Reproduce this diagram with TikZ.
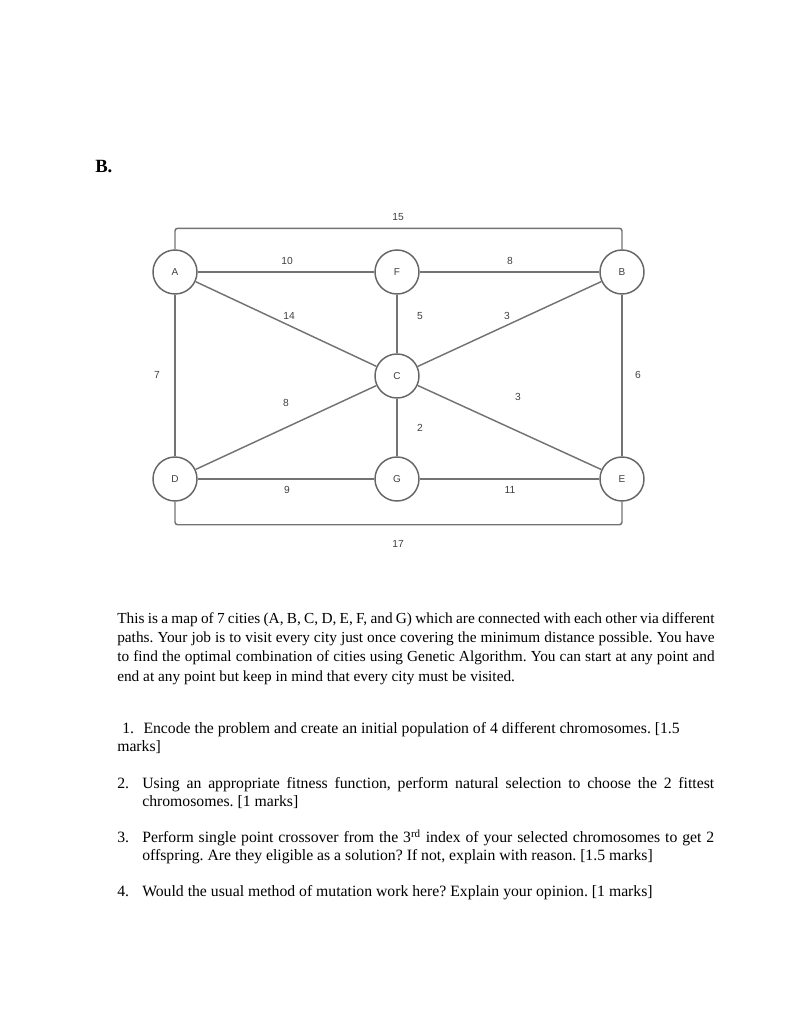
\documentclass[tikz,border=0pt]{standalone}
\usepackage{fontspec}
\setmainfont{Liberation Serif}
\setsansfont{Liberation Sans}
\frenchspacing
\begin{document}
\begin{tikzpicture}[
  x=0.75pt, y=-0.75pt,
  city/.style={circle, draw=black!60, line width=1.1pt, minimum size=33pt,
    inner sep=0pt, fill=white, font=\sffamily\fontsize{7.5}{9}\selectfont, text=black!75},
  road/.style={draw=black!55, line width=1.1pt},
  weight/.style={font=\sffamily\fontsize{7.7}{9}\selectfont, text=black!75},
  prose/.style={anchor=north west, inner sep=0pt, text width=448pt, align=justify,
    font=\fontsize{11.5}{14.5}\selectfont},
  item/.style={prose, text width=429pt, font=\fontsize{11.8}{13.5}\selectfont,
    execute at begin node=\strut},
]
\useasboundingbox (0,0) rectangle (802,1024);

% Heading
\node[anchor=west, inner sep=0pt, font=\bfseries\fontsize{14}{16}\selectfont] (head) at (95,167) {B.};

% Cities
\foreach \n/\x/\y in {A/175/272, F/397/272, B/622/272, C/397/376, D/175/479, G/397/479, E/622/479}
  \node[city] (\n) at (\x,\y) {\n};

% Roads between cities
\foreach \a/\b in {A/F, F/B, A/C, F/C, B/C, A/D, B/E, D/C, C/E, C/G, D/G, G/E}
  \draw[road] (\a) -- (\b);
% Outer roads (A-B over the top, D-E under the bottom)
\draw[road, rounded corners=2pt] (A.north) -- ++(0,-21) -| (B.north);
\draw[road, rounded corners=2pt] (D.south) -- ++(0,23) -| (E.south);

% Distances
\foreach \x/\y/\lbl [count=\i] in {398/217/15, 287/261/10, 510/261/8, 289/316/14, 420/316/5,
    507/316/3, 157/375/7, 638/375/6, 286/403/8, 518/397/3, 420/428/2, 287/490/9,
    510/490/11, 398/544/17}
  \node[weight] (w\i) at (\x,\y) {\lbl};

% Problem statement
\node[prose] (intro) at (117,612) {This is a map of 7 cities (A, B, C, D, E, F, and G) which are connected with each other via different\linebreak
paths. Your job is to visit every city just once covering the minimum distance possible. You have\linebreak
to find the optimal combination of cities using Genetic Algorithm. You can start at any point and\linebreak
end at any point but keep in mind that every city must be visited.};

% Questions
\node[item, text width=448pt, align=flush left] (q1) at (117,721)
  {\hspace*{3.75pt}1.\hspace{0.6em}Encode the problem and create an initial population of 4 different chromosomes. [1.5\\marks]};
\node[item, text width=20pt, align=left] (n2) at (117,776) {2.};
\node[item] (q2) at (142,776)
  {Using an appropriate fitness function, perform natural selection to choose the 2 fittest\linebreak
  chromosomes. [1 marks]};
\node[item, text width=20pt, align=left] (n3) at (117,830) {3.};
\node[item] (q3) at (142,830)
  {Perform single point crossover from the 3\smash{\textsuperscript{rd}} index of your selected chromosomes to get 2\linebreak
  offspring. Are they eligible as a solution? If not, explain with reason. [1.5 marks]};
\node[item, text width=20pt, align=left] (n4) at (117,884) {4.};
\node[item, align=flush left] (q4) at (142,884)
  {Would the usual method of mutation work here? Explain your opinion. [1 marks]};

\end{tikzpicture}
\end{document}
